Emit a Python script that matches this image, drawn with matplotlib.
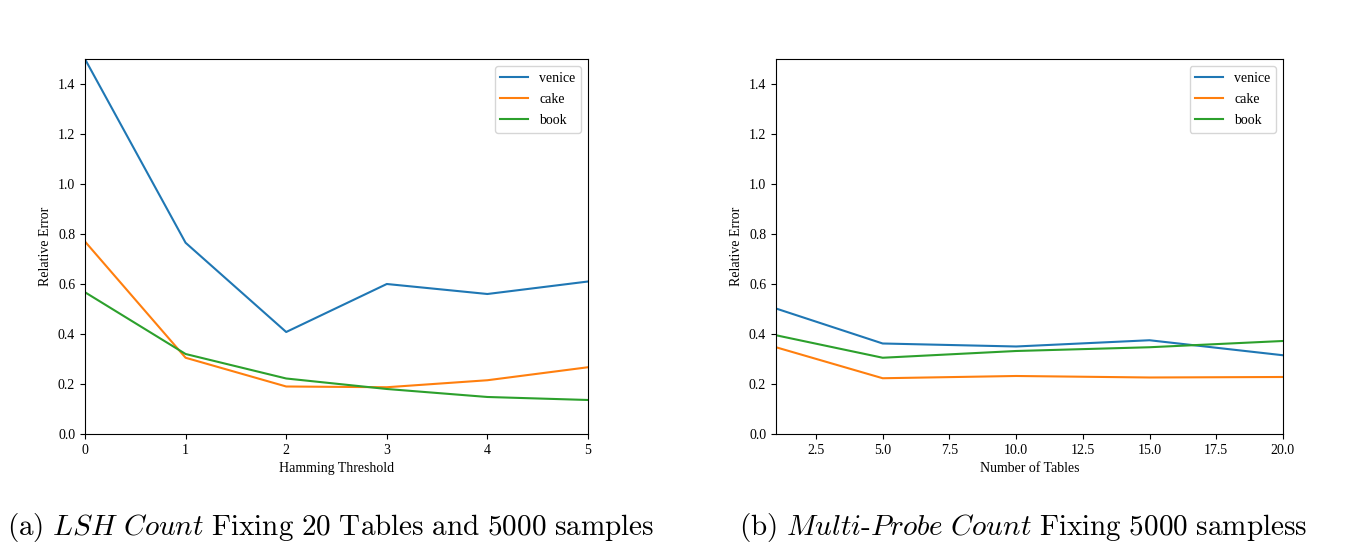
import matplotlib
matplotlib.use("Agg")
import matplotlib.pyplot as plt

series = ["venice", "cake", "book"]

# (a) LSH Count, x = Hamming threshold
hamming = [0, 1, 2, 3, 4, 5]
lsh_venice = [1.50, 0.765, 0.408, 0.600, 0.560, 0.610]
lsh_cake = [0.770, 0.305, 0.190, 0.187, 0.215, 0.267]
lsh_book = [0.567, 0.320, 0.222, 0.180, 0.148, 0.136]

# (b) Multi-Probe Count, x = number of tables
tables = [1, 5, 10, 15, 20]
mp_venice = [0.502, 0.362, 0.350, 0.375, 0.315]
mp_cake = [0.347, 0.223, 0.232, 0.226, 0.228]
mp_book = [0.395, 0.305, 0.332, 0.347, 0.372]

plt.rcParams['font.family'] = ['Liberation Serif', 'DejaVu Serif']
plt.rcParams['mathtext.fontset'] = 'cm'

fig = plt.figure(figsize=(13.53, 5.45), dpi=100)
ax1 = fig.add_axes([0.0628, 0.2037, 0.3718, 0.688])
ax2 = fig.add_axes([0.5735, 0.2037, 0.3747, 0.688])

for name, ys in zip(series, [lsh_venice, lsh_cake, lsh_book]):
    ax1.plot(hamming, ys, label=name)
ax1.set_xlim(0, 5)
ax1.set_ylim(0, 1.5)
ax1.set_xlabel("Hamming Threshold", fontsize=10)
ax1.set_ylabel("Relative Error", fontsize=10)

for name, ys in zip(series, [mp_venice, mp_cake, mp_book]):
    ax2.plot(tables, ys, label=name)
ax2.set_xlim(1, 20)
ax2.set_ylim(0, 1.5)
ax2.set_xlabel("Number of Tables", fontsize=10)
ax2.set_ylabel("Relative Error", fontsize=10)

for ax in (ax1, ax2):
    ax.tick_params(labelsize=10)
    ax.legend(loc="upper right", fontsize=10, labelspacing=0.6)

fig.text(0.2447, 0.032,
         r"$\mathrm{(a)}\ \mathit{LSH\ Count}\ \mathrm{Fixing\ 20\ Tables\ and\ 5000\ samples}$",
         ha="center", va="center", fontsize=21)
fig.text(0.7565, 0.032,
         r"$\mathrm{(b)}\ \mathit{Multi\text{-}Probe\ Count}\ \mathrm{Fixing\ 5000\ sampless}$",
         ha="center", va="center", fontsize=21)

plt.savefig("out.png", dpi=100)
